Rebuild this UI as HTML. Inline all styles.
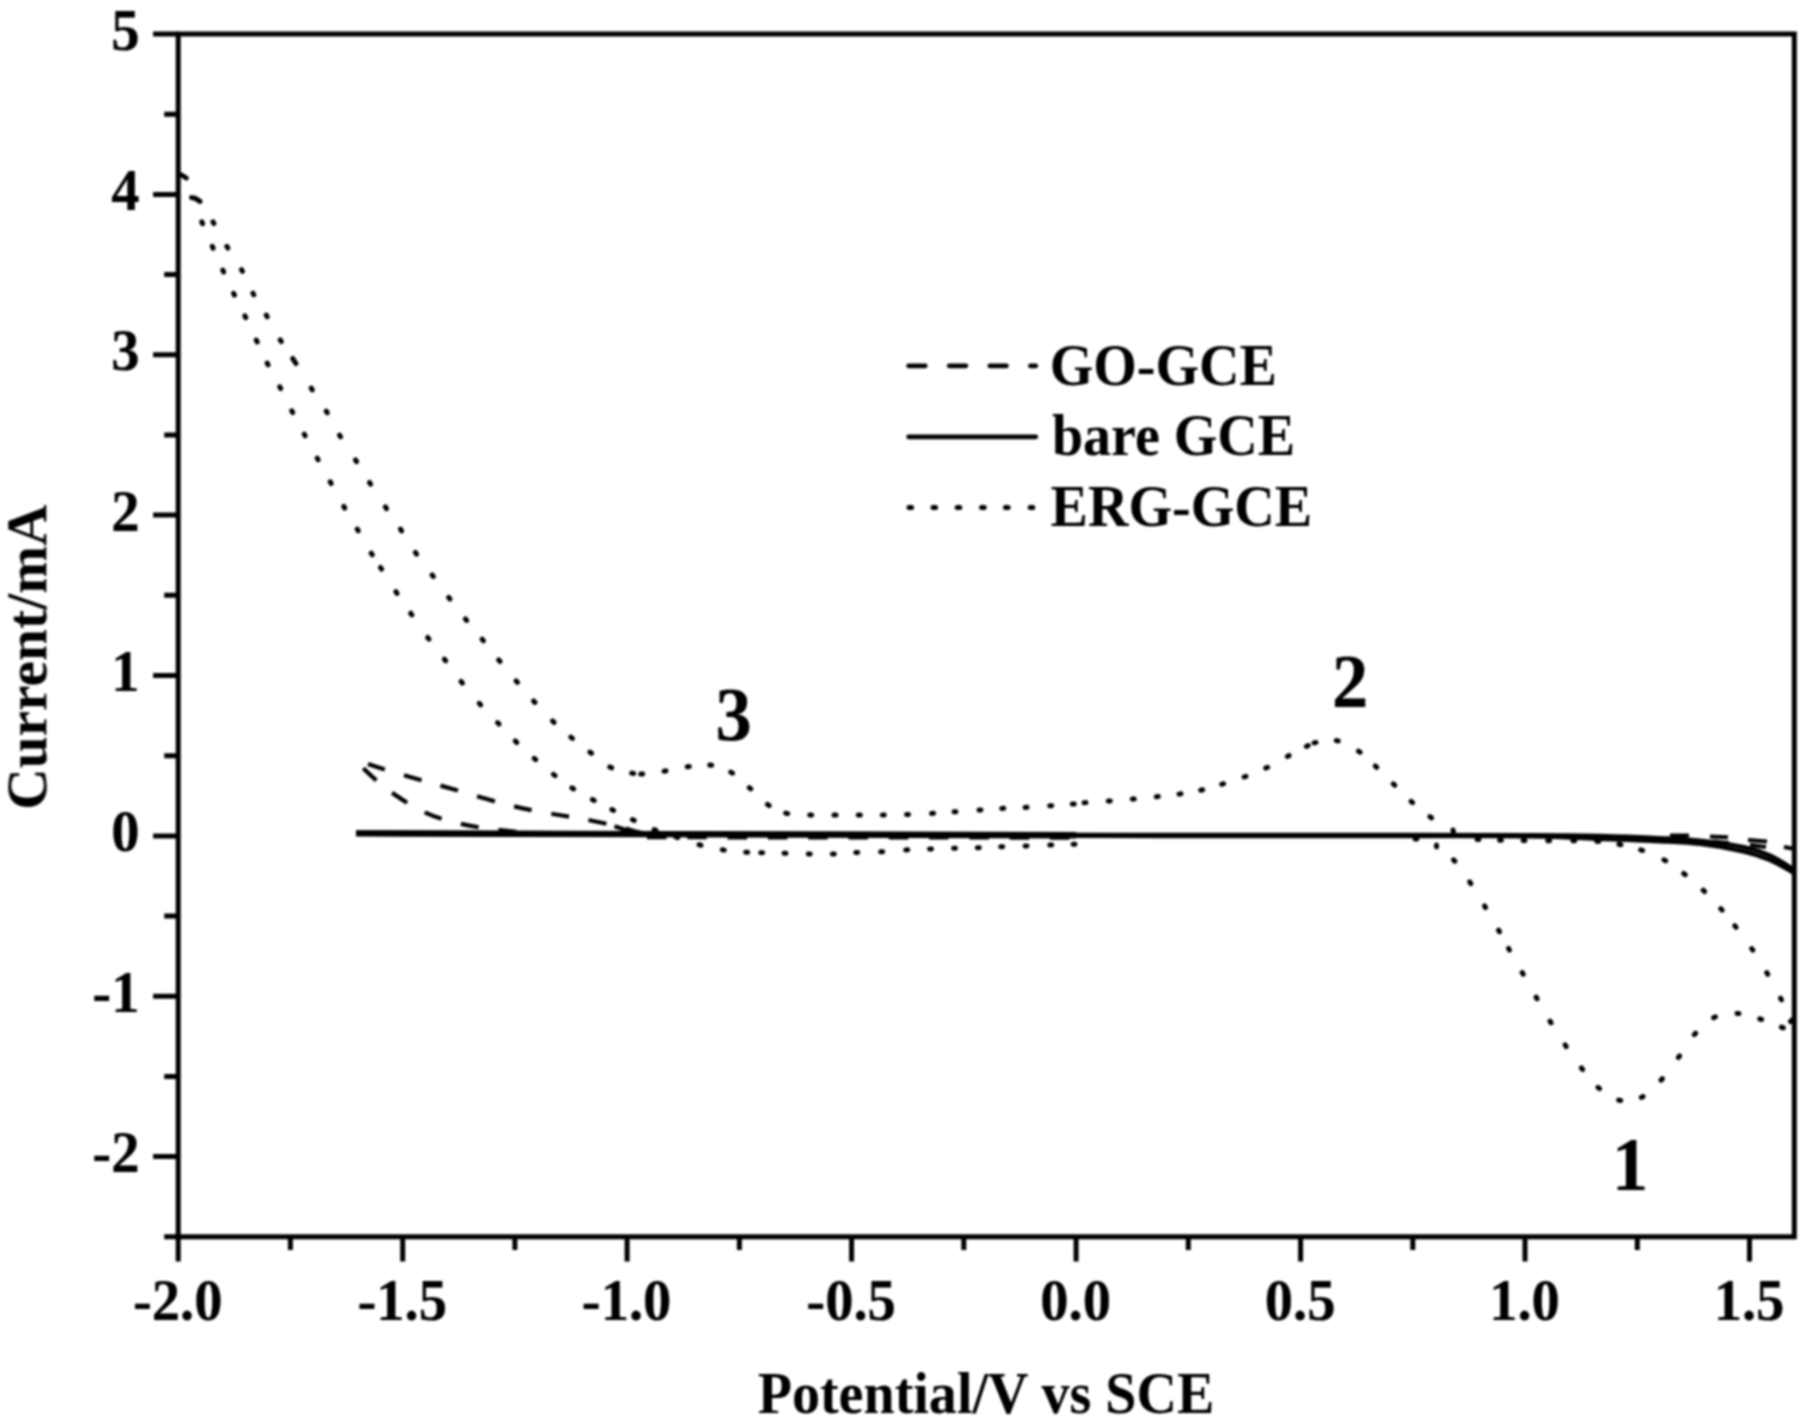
<!DOCTYPE html>
<html lang="en"><head><meta charset="utf-8"><title>Cyclic voltammograms</title>
<style>html,body{margin:0;padding:0;background:#fff}body{width:1800px;height:1427px;overflow:hidden}svg{display:block}text{font-family:"Liberation Serif","DejaVu Serif",serif;font-weight:bold;fill:#000}.d{stroke:#000;stroke-width:0.25px}</style>
</head><body>
<svg width="1800" height="1427" viewBox="0 0 1800 1427">
<rect width="1800" height="1427" fill="#fff"/>
<g style="filter:blur(0.8px)">
<rect x="178.2" y="34.0" width="1616.1" height="1202.8" fill="none" stroke="#000" stroke-width="5.0"/>
<path d="M178.2 1236.8v24.7M290.4 1236.8v13.2M402.7 1236.8v24.7M514.9 1236.8v13.2M627.1 1236.8v24.7M739.4 1236.8v13.2M851.6 1236.8v24.7M963.8 1236.8v13.2M1076.1 1236.8v24.7M1188.3 1236.8v13.2M1300.6 1236.8v24.7M1412.8 1236.8v13.2M1525.0 1236.8v24.7M1637.3 1236.8v13.2M1749.5 1236.8v24.7M178.2 1236.8h-14M178.2 1156.6h-25.1M178.2 1076.4h-14M178.2 996.2h-25.1M178.2 916.1h-14M178.2 835.9h-25.1M178.2 755.7h-14M178.2 675.5h-25.1M178.2 595.3h-14M178.2 515.1h-25.1M178.2 434.9h-14M178.2 354.7h-25.1M178.2 274.6h-14M178.2 194.4h-25.1M178.2 114.2h-14M178.2 34.0h-25.1" fill="none" stroke="#000" stroke-width="5.0"/>
<text class="d" transform="translate(177.7 1319.7) scale(0.94 1)" font-size="60.2" text-anchor="middle">-2.0</text>
<text class="d" transform="translate(402.2 1319.7) scale(0.94 1)" font-size="60.2" text-anchor="middle">-1.5</text>
<text class="d" transform="translate(626.6 1319.7) scale(0.94 1)" font-size="60.2" text-anchor="middle">-1.0</text>
<text class="d" transform="translate(851.1 1319.7) scale(0.94 1)" font-size="60.2" text-anchor="middle">-0.5</text>
<text class="d" transform="translate(1075.6 1319.7) scale(0.94 1)" font-size="60.2" text-anchor="middle">0.0</text>
<text class="d" transform="translate(1300.1 1319.7) scale(0.94 1)" font-size="60.2" text-anchor="middle">0.5</text>
<text class="d" transform="translate(1524.5 1319.7) scale(0.94 1)" font-size="60.2" text-anchor="middle">1.0</text>
<text class="d" transform="translate(1749.0 1319.7) scale(0.94 1)" font-size="60.2" text-anchor="middle">1.5</text>
<text class="d" transform="translate(139.5 1172.1) scale(0.94 1)" font-size="60.2" text-anchor="end">-2</text>
<text class="d" transform="translate(139.5 1011.7) scale(0.94 1)" font-size="60.2" text-anchor="end">-1</text>
<text class="d" transform="translate(139.5 851.4) scale(0.94 1)" font-size="60.2" text-anchor="end">0</text>
<text class="d" transform="translate(139.5 691.0) scale(0.94 1)" font-size="60.2" text-anchor="end">1</text>
<text class="d" transform="translate(139.5 530.6) scale(0.94 1)" font-size="60.2" text-anchor="end">2</text>
<text class="d" transform="translate(139.5 370.2) scale(0.94 1)" font-size="60.2" text-anchor="end">3</text>
<text class="d" transform="translate(139.5 209.9) scale(0.94 1)" font-size="60.2" text-anchor="end">4</text>
<text class="d" transform="translate(139.5 49.5) scale(0.94 1)" font-size="60.2" text-anchor="end">5</text>
<text transform="translate(986.0 1413.0) scale(0.958 1)" font-size="58.5" text-anchor="middle">Potential/V vs SCE</text>
<text transform="translate(46.3 657.2) rotate(-90) scale(1.012 1)" font-size="56.8" text-anchor="middle">Current/mA</text>
<g fill="none" stroke="#000" stroke-width="4.7" stroke-linecap="round">
<path d="M908.6 365.8H1035.8" stroke-dasharray="16.7 23.9"/>
<path d="M908.6 436.8H1035.8"/>
</g>
<path d="M909 507.6h2.6M933 507.6h2.6M957.2 507.6h2.6M981.6 507.6h2.6M1005.5 507.6h2.6M1030.2 507.6h2.6" fill="none" stroke="#000" stroke-width="5.0" stroke-linecap="round"/>
<text transform="translate(1049.7 384.5) scale(0.958 1)" font-size="58.5">GO-GCE</text>
<text transform="translate(1051.9 455.0) scale(0.958 1)" font-size="58.5">bare GCE</text>
<text transform="translate(1050.6 526.1) scale(0.958 1)" font-size="58.5">ERG-GCE</text>
<text class="d" transform="translate(733.5 740.0) scale(0.94 1)" font-size="77" text-anchor="middle">3</text>
<text class="d" transform="translate(1350.0 706.7) scale(0.94 1)" font-size="77" text-anchor="middle">2</text>
<text class="d" transform="translate(1630.0 1189.7) scale(0.94 1)" font-size="77" text-anchor="middle">1</text>
<path d="M201.8 221.8l0.79 1.84M212.3 246.3l0.80 1.83M222.8 270.1l0.83 1.82M233.6 293.3l0.87 1.80M244.9 315.8l0.87 1.80M256.3 340.1l0.86 1.81M267.2 363.1l0.90 1.79M279.8 386.8l0.92 1.78M291.8 410.8l0.92 1.78M304.2 434.1l0.95 1.76M317.2 458.1l0.96 1.76M330.2 481.8l0.96 1.75M343.8 506.4l0.99 1.74M357.2 529.1l1.01 1.73M371.2 553.1l1.04 1.71M380.5 567.5l1.08 1.68M395.9 591.7l1.11 1.67M410.7 613.2l1.14 1.64M427.7 637.5l1.18 1.61M444.4 659.2l1.21 1.59M461.1 681.5l1.25 1.57M479.3 703.3l1.33 1.49M497.6 722.6l1.38 1.45M515.3 741.0l1.43 1.39M534.2 758.3l1.51 1.31M553.5 774.4l1.58 1.23M571.9 787.8l1.68 1.08M592.4 799.5l1.76 0.95M611.8 809.6l1.79 0.89M632.4 819.6l1.81 0.85M654.1 829.6l1.86 0.74M675.8 837.0l1.90 0.63M699.0 844.7l1.93 0.53M722.3 849.8l1.98 0.31M745.7 852.2l2.00 0.14M760.7 852.7l2.00 0.05M784.0 853.3l2.00 0.05M808.3 854.0l2.00 0.03M832.3 854.0l2.00 -0.06M855.7 852.5l2.00 -0.09M880.7 851.8l2.00 -0.11M905.7 849.9l2.00 -0.11M929.5 849.0l2.00 -0.06M953.5 848.3l2.00 -0.05M977.3 847.7l2.00 -0.07M1000.7 846.7l2.00 -0.07M1025.0 846.0l2.00 -0.07M1049.7 845.0l2.00 -0.07M1073.0 844.3l2.00 -0.06M212.9 221.8l0.99 1.74M226.8 246.3l1.03 1.72M241.5 269.6l0.97 1.75M252.9 293.1l0.95 1.76M266.2 315.1l1.01 1.73M280.2 339.8l1.05 1.70M311.2 388.2l1.08 1.68M326.2 411.1l1.03 1.71M339.5 435.1l1.03 1.71M355.5 459.9l1.07 1.69M369.5 482.5l1.08 1.69M385.4 506.9l1.11 1.67M400.5 529.2l1.10 1.67M415.4 552.5l1.14 1.64M432.1 574.9l1.19 1.61M448.7 597.5l1.21 1.59M465.4 618.9l1.25 1.56M482.1 639.2l1.26 1.55M498.7 659.9l1.26 1.55M516.1 680.9l1.30 1.52M533.6 701.0l1.35 1.48M552.6 721.0l1.44 1.39M570.9 737.1l1.54 1.28M589.9 752.1l1.59 1.21M609.8 766.9l1.80 0.88M631.7 773.1l1.95 0.42M640.7 774.1l1.99 -0.14M664.0 771.2l1.98 -0.31M687.3 766.8l1.98 -0.26M709.7 764.9l1.98 0.27M730.8 772.2l1.72 1.02M749.3 787.6l1.50 1.32M767.5 804.4l1.65 1.13M785.7 813.1l1.95 0.46M809.7 815.0l2.00 0.07M834.0 815.0l2.00 0.00M858.3 815.0l2.00 0.00M882.3 815.0l2.00 -0.02M906.5 814.5l2.00 -0.07M931.5 813.4l2.00 -0.12M954.0 811.8l2.00 -0.14M979.0 810.1l1.99 -0.14M1001.7 808.4l2.00 -0.12M1025.0 807.4l2.00 -0.11M1049.7 805.8l2.00 -0.14M1072.3 804.1l1.99 -0.17M1084.0 802.8l1.99 -0.17M1108.3 801.1l1.99 -0.15M1132.3 799.1l1.99 -0.18M1156.3 796.8l1.99 -0.21M1179.0 794.1l1.98 -0.30M1200.7 790.2l1.95 -0.46M1221.7 784.3l1.91 -0.59M1244.1 777.0l1.88 -0.69M1265.8 768.1l1.80 -0.86M1287.4 756.5l1.76 -0.94M1306.4 746.4l1.79 -0.89M1314.0 742.9l1.97 -0.35M1336.3 740.5l1.96 0.40M1358.5 751.1l1.66 1.12M1375.3 766.0l1.45 1.37M1393.3 783.8l1.42 1.40M1411.1 801.3l1.49 1.33M1429.9 816.7l1.64 1.15M1453.0 830.0l0.40 1.96M1436.5 845.0l0.07 2.00M1453.5 859.8l1.35 1.47M1469.7 881.9l1.11 1.67M1484.5 905.9l1.02 1.72M1498.5 930.1l0.98 1.74M1508.5 948.4l0.98 1.75M1522.2 972.5l0.99 1.74M1536.1 997.1l0.99 1.74M1550.0 1021.1l1.04 1.71M1565.1 1044.9l1.12 1.66M1581.4 1067.9l1.23 1.57M1598.0 1087.3l1.53 1.28M1618.7 1100.1l1.96 0.41M1641.3 1097.4l1.79 -0.89M1661.0 1080.2l1.35 -1.48M1678.4 1057.6l1.18 -1.61M1694.3 1034.7l1.34 -1.49M1713.6 1017.7l1.81 -0.86M1737.0 1013.5l2.00 0.08M1759.7 1018.9l1.91 0.60M1781.4 1027.1l1.87 0.72M1781.5 999.9l-0.95 -1.76M1767.7 974.3l-1.00 -1.73M1752.8 950.2l-1.12 -1.66M1736.0 927.3l-1.22 -1.58M1722.1 910.2l-1.32 -1.50M1704.6 891.5l-1.44 -1.38M1685.3 874.7l-1.58 -1.23M1665.7 860.8l-1.75 -0.98M1642.6 850.5l-1.89 -0.66M1620.9 844.7l-1.96 -0.40M1598.8 841.4l-1.99 -0.16M1574.8 840.8l-2.00 -0.02M1549.7 840.8l-2.00 -0.01M1525.0 840.6l-2.00 -0.02M1501.5 840.3l-2.00 -0.05M1479.0 839.5l-2.00 -0.03M1417.0 839.0l-2.00 -0.02" fill="none" stroke="#000" stroke-width="5.0" stroke-linecap="round"/>
<path d="M181.5 175l4.8 3M191.5 197.6l3.5 .6l5 3.2M295.9 363.5l-3.2 -5M1790.5 1021.5l1.5 -1.5" fill="none" stroke="#000" stroke-width="5.0" stroke-linecap="round"/>
<g fill="none" stroke="#000" stroke-width="4.2" stroke-dasharray="18 20">
<path d="M368 764 C400 775 440 785 486.7 799 S560 814 596.7 821.7 S630 831 645 833.5"/>
<path d="M363.3 768.3 C375 780 395 797 420 810 S480 829 530 833"/>
</g>
<path d="M614.5 826.2L635.5 833.3" fill="none" stroke="#000" stroke-width="4.2"/>
<path d="M647 837.2L1076 837.6" fill="none" stroke="#000" stroke-width="4.2" stroke-dasharray="19.5 20.8"/>
<g fill="none" stroke="#000" stroke-width="4">
<path d="M1670 835.6H1689M1710 836.6L1728 837.2M1748 840L1767 841.5M1784 847L1792 848.5"/>
<path d="M1713 841.5L1729 843M1750 845L1766 847"/>
</g>
<g fill="none" stroke="#000">
<path d="M356 833.2 L640 834 L1100 835.4 L1520 835.6" stroke-width="5.4"/>
<path d="M356 833.4 L1076 835.2" stroke-width="6.4"/>
<path d="M1500.0 835.3C1510.0 835.3 1543.3 835.2 1560.0 835.3C1576.7 835.4 1585.0 835.4 1600.0 835.8C1615.0 836.2 1633.3 836.8 1650.0 837.6C1666.7 838.4 1684.3 839.0 1700.0 840.6C1715.7 842.2 1732.3 844.6 1744.0 847.1C1755.7 849.6 1761.7 851.8 1770.0 855.5C1778.3 859.2 1790.0 867.2 1794.0 869.5" stroke-width="4.3"/>
<path d="M1500.0 835.9C1510.0 836.1 1543.3 836.5 1560.0 837.0C1576.7 837.5 1585.0 838.3 1600.0 838.9C1615.0 839.5 1633.3 840.0 1650.0 840.8C1666.7 841.6 1684.3 842.1 1700.0 843.9C1715.7 845.7 1732.3 848.9 1744.0 851.6C1755.7 854.3 1761.7 856.4 1770.0 860.0C1778.3 863.6 1790.0 870.8 1794.0 873.0" stroke-width="4.3"/>
</g>
</g>
</svg>
</body></html>
